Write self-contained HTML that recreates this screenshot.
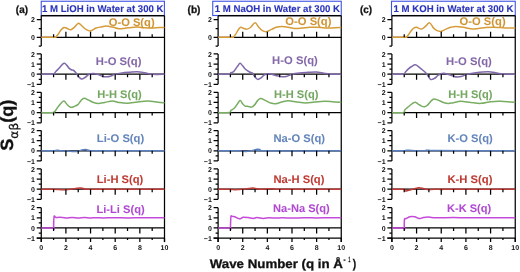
<!DOCTYPE html><html><head><meta charset="utf-8"><style>html,body{margin:0;padding:0;background:#fff;width:520px;height:272px;overflow:hidden}svg{display:block}</style></head><body><div id="w"><svg width="520" height="272" viewBox="0 0 520 272" text-rendering="geometricPrecision">
<rect width="520" height="272" fill="#fff"/>
<g fill="none" stroke="#000" stroke-width="1.25">
<path d="M164.5,15.5V242.1"/>
<path d="M41.25,15.5H164.5"/>
<path d="M36.75,238.1H164.5"/>
<path d="M41.25,238.1v4M53.58,238.1v2M65.9,238.1v4M78.22,238.1v2M90.55,238.1v4M102.88,238.1v2M115.2,238.1v4M127.52,238.1v2M139.85,238.1v4M152.18,238.1v2M164.5,238.1v4"/>
<path d="M41.25,15.5V46.1"/>
<path d="M36.75,19.7H41.25M38.75,28.5H41.25M36.75,37.3H41.25M38.75,46.1H41.25"/>
<path d="M41.25,37.3H164.5"/>
<path d="M41.25,53.9V84.35"/>
<path d="M36.75,53.9H41.25M38.75,58.98H41.25M36.75,64.05H41.25M38.75,69.12H41.25M36.75,74.2H41.25M38.75,79.28H41.25M36.75,84.35H41.25"/>
<path d="M41.25,74.2H164.5"/>
<path d="M41.25,92.3V122.75"/>
<path d="M36.75,92.3H41.25M38.75,97.38H41.25M36.75,102.45H41.25M38.75,107.52H41.25M36.75,112.6H41.25M38.75,117.67H41.25M36.75,122.75H41.25"/>
<path d="M41.25,112.6H164.5"/>
<path d="M41.25,130.5V160.95"/>
<path d="M36.75,130.5H41.25M38.75,135.58H41.25M36.75,140.65H41.25M38.75,145.73H41.25M36.75,150.8H41.25M38.75,155.88H41.25M36.75,160.95H41.25"/>
<path d="M41.25,150.8H164.5"/>
<path d="M41.25,168.9V199.35"/>
<path d="M36.75,168.9H41.25M38.75,173.97H41.25M36.75,179.05H41.25M38.75,184.12H41.25M36.75,189.2H41.25M38.75,194.27H41.25M36.75,199.35H41.25"/>
<path d="M41.25,189.2H164.5"/>
<path d="M41.25,207.65V242.1"/>
<path d="M36.75,207.65H41.25M38.75,212.72H41.25M36.75,217.8H41.25M38.75,222.88H41.25M36.75,227.95H41.25M38.75,233.02H41.25M36.75,238.1H41.25"/>
<path d="M41.25,227.95H164.5"/>
</g>
<path d="M41.25,37.3C43.47,37.3 52.1,37.37 54.56,37.3C57.03,37.23 55.38,37.45 56.04,36.86C56.7,36.27 57.68,34.92 58.5,33.78C59.33,32.64 60.05,31.04 60.97,30C61.89,28.95 63,27.78 64.05,27.53C65.1,27.28 66.11,28.13 67.26,28.5C68.41,28.87 69.7,30 70.95,29.73C72.21,29.47 73.52,28.02 74.77,26.92C76.03,25.82 77.22,23.25 78.47,23.13C79.72,23.01 81.04,25.17 82.29,26.21C83.55,27.25 84.63,28.59 85.99,29.38C87.35,30.17 88.76,31.18 90.43,30.96C92.09,30.74 94.21,28.73 95.97,28.06C97.74,27.39 99.32,27.24 101.03,26.92C102.73,26.59 104.29,26.09 106.2,26.12C108.11,26.15 110.39,26.67 112.49,27.09C114.58,27.52 116.68,28.49 118.77,28.68C120.87,28.87 122.99,28.44 125.06,28.24C127.13,28.03 129.15,27.63 131.22,27.44C133.3,27.25 135.41,27.05 137.51,27.09C139.6,27.14 141.72,27.55 143.79,27.71C145.87,27.87 147.88,28.06 149.96,28.06C152.03,28.06 153.82,27.81 156.24,27.71C158.67,27.61 163.12,27.49 164.5,27.44" fill="none" stroke="#d69c3a" stroke-width="1.5" stroke-linejoin="round"/>
<path d="M41.25,74.2C43.3,74.2 51.36,74.37 53.58,74.2C55.79,74.03 54.15,73.68 54.56,73.19C54.97,72.69 55.26,72.1 56.04,71.26C56.82,70.41 58.26,69.18 59.24,68.11C60.23,67.04 61.09,65.66 61.96,64.86C62.82,64.07 63.6,63.25 64.42,63.34C65.24,63.42 66.13,64.57 66.89,65.37C67.65,66.16 68.26,67.38 68.98,68.11C69.7,68.84 70.48,69.38 71.2,69.73C71.92,70.09 72.58,69.84 73.3,70.24C74.01,70.65 74.9,71.51 75.51,72.17C76.13,72.83 76.5,73.49 76.99,74.2C77.49,74.91 77.71,75.62 78.47,76.43C79.23,77.25 80.4,78.94 81.55,79.07C82.7,79.21 84.12,78.06 85.37,77.25C86.63,76.43 87.72,74.83 89.07,74.2C90.43,73.57 92.03,73.44 93.51,73.49C94.99,73.54 96.38,74.01 97.94,74.5C99.51,75 101.38,76.04 102.88,76.43C104.37,76.82 105.59,76.92 106.94,76.84C108.3,76.75 109.67,76.37 111.01,75.93C112.34,75.49 113.13,74.71 114.95,74.2C116.78,73.69 119.47,73.22 121.98,72.88C124.48,72.54 127.48,72.36 129.99,72.17C132.5,71.98 134.84,71.73 137.02,71.76C139.19,71.8 141.06,72.05 143.05,72.37C145.05,72.69 146.83,73.35 148.97,73.69C151.11,74.03 153.28,74.32 155.87,74.4C158.46,74.49 163.06,74.23 164.5,74.2" fill="none" stroke="#8068aa" stroke-width="1.5" stroke-linejoin="round"/>
<path d="M41.25,112.6C43.2,112.6 50.49,113.09 52.96,112.6C55.42,112.11 54.91,110.98 56.04,109.66C57.17,108.34 58.44,106.12 59.74,104.68C61.03,103.25 62.55,101.03 63.8,101.03C65.06,101.03 66.15,103.65 67.26,104.68C68.36,105.71 69.31,106.92 70.46,107.22C71.61,107.52 72.93,106.93 74.16,106.51C75.39,106.09 76.7,105.7 77.86,104.68C79.01,103.67 80.01,101.49 81.06,100.42C82.11,99.35 82.91,98.36 84.14,98.29C85.37,98.22 86.89,99.32 88.45,100.01C90.02,100.71 91.84,101.87 93.51,102.45C95.17,103.03 96.57,103.46 98.44,103.46C100.31,103.46 102.38,102.86 104.72,102.45C107.07,102.04 110.15,101.03 112.49,101.03C114.83,101.03 116.27,102.08 118.77,102.45C121.28,102.82 124.4,103.35 127.52,103.26C130.65,103.18 134.18,102.31 137.51,101.94C140.84,101.57 144.57,101.08 147.49,101.03C150.41,100.98 152.17,101.33 155.01,101.64C157.84,101.94 162.92,102.65 164.5,102.86" fill="none" stroke="#78ad62" stroke-width="1.5" stroke-linejoin="round"/>
<path d="M41.25,150.8C43.3,150.8 51.21,150.87 53.58,150.8C55.94,150.73 54.7,150.48 55.42,150.39C56.14,150.31 56.96,150.22 57.89,150.29C58.81,150.36 59.22,150.66 60.97,150.8C62.72,150.94 66.31,150.97 68.37,151.1C70.42,151.24 71.65,151.58 73.3,151.61C74.94,151.65 76.79,151.58 78.22,151.31C79.66,151.04 80.69,150.28 81.92,149.99C83.15,149.7 84.39,149.5 85.62,149.58C86.85,149.67 87.88,150.29 89.32,150.5C90.76,150.7 81.72,150.75 94.25,150.8C106.78,150.85 152.79,150.8 164.5,150.8" fill="none" stroke="#5a7fbf" stroke-width="1.5" stroke-linejoin="round"/>
<path d="M41.25,189.2C43.3,189.2 50.49,189.13 53.58,189.2C56.66,189.27 57.89,189.52 59.74,189.61C61.59,189.69 62.82,189.78 64.67,189.71C66.52,189.64 68.78,189.45 70.83,189.2C72.88,188.95 75.35,188.39 76.99,188.19C78.64,187.98 79.46,187.9 80.69,187.98C81.92,188.07 82.74,188.49 84.39,188.69C86.03,188.9 77.2,189.12 90.55,189.2C103.9,189.28 152.18,189.2 164.5,189.2" fill="none" stroke="#c03a36" stroke-width="1.5" stroke-linejoin="round"/>
<path d="M41.25,227.95C43.28,227.95 51.4,227.87 53.45,227.95C55.51,228.03 53.47,230.35 53.58,228.46C53.68,226.56 53.66,218.39 54.07,216.58C54.48,214.77 55.1,217.48 56.04,217.6C56.98,217.72 58.09,217.22 59.74,217.29C61.38,217.36 63.85,217.97 65.9,218C67.95,218.04 70.01,217.5 72.06,217.5C74.12,217.5 76.17,217.99 78.22,218C80.28,218.02 82.33,217.6 84.39,217.6C86.44,217.6 88.5,217.99 90.55,218C92.6,218.02 94.66,217.72 96.71,217.7C98.77,217.68 99.79,217.9 102.88,217.9C105.96,217.9 111.09,217.7 115.2,217.7C119.31,217.7 123.42,217.88 127.52,217.9C131.63,217.92 135.74,217.82 139.85,217.8C143.96,217.78 148.07,217.8 152.18,217.8C156.28,217.8 162.45,217.8 164.5,217.8" fill="none" stroke="#c64ada" stroke-width="1.5" stroke-linejoin="round"/>
<g fill="none" stroke="#000" stroke-width="1.25">
<path d="M53.58,37.3v-3M65.9,37.3v-5.5M78.22,37.3v-3M90.55,37.3v-5.5M102.88,37.3v-3M115.2,37.3v-5.5M127.52,37.3v-3M139.85,37.3v-5.5M152.18,37.3v-3"/>
<path d="M53.58,74.2v3M65.9,74.2v5.5M78.22,74.2v3M90.55,74.2v5.5M102.88,74.2v3M115.2,74.2v5.5M127.52,74.2v3M139.85,74.2v5.5M152.18,74.2v3"/>
<path d="M53.58,112.6v3M65.9,112.6v5.5M78.22,112.6v3M90.55,112.6v5.5M102.88,112.6v3M115.2,112.6v5.5M127.52,112.6v3M139.85,112.6v5.5M152.18,112.6v3"/>
<path d="M53.58,150.8v3M65.9,150.8v5.5M78.22,150.8v3M90.55,150.8v5.5M102.88,150.8v3M115.2,150.8v5.5M127.52,150.8v3M139.85,150.8v5.5M152.18,150.8v3"/>
<path d="M53.58,189.2v3M65.9,189.2v5.5M78.22,189.2v3M90.55,189.2v5.5M102.88,189.2v3M115.2,189.2v5.5M127.52,189.2v3M139.85,189.2v5.5M152.18,189.2v3"/>
<path d="M53.58,227.95v3M65.9,227.95v5.5M78.22,227.95v3M90.55,227.95v5.5M102.88,227.95v3M115.2,227.95v5.5M127.52,227.95v3M139.85,227.95v5.5M152.18,227.95v3"/>
</g>
<g font-family="Liberation Sans, Arial, sans-serif" font-size="7" font-weight="bold" text-anchor="end" fill="#111">
<text x="34.95" y="22.35">2</text>
<text x="34.95" y="39.95">0</text>
<text x="34.95" y="56.55">2</text>
<text x="34.95" y="66.7">1</text>
<text x="34.95" y="76.85">0</text>
<text x="34.95" y="87">−1</text>
<text x="34.95" y="94.95">2</text>
<text x="34.95" y="105.1">1</text>
<text x="34.95" y="115.25">0</text>
<text x="34.95" y="125.4">−1</text>
<text x="34.95" y="133.15">2</text>
<text x="34.95" y="143.3">1</text>
<text x="34.95" y="153.45">0</text>
<text x="34.95" y="163.6">−1</text>
<text x="34.95" y="171.55">2</text>
<text x="34.95" y="181.7">1</text>
<text x="34.95" y="191.85">0</text>
<text x="34.95" y="202">−1</text>
<text x="34.95" y="210.3">2</text>
<text x="34.95" y="220.45">1</text>
<text x="34.95" y="230.6">0</text>
<text x="34.95" y="240.75">−1</text>
</g>
<g font-family="Liberation Sans, Arial, sans-serif" font-size="7" font-weight="bold" text-anchor="middle" fill="#111">
<text x="41.25" y="250">0</text>
<text x="65.9" y="250">2</text>
<text x="90.55" y="250">4</text>
<text x="115.2" y="250">6</text>
<text x="139.85" y="250">8</text>
<text x="164.5" y="250">10</text>
</g>
<text x="108.78" y="25.5" font-family="Liberation Sans, Arial, sans-serif" font-size="11.1" font-weight="bold" fill="#d09535" stroke="#d09535" stroke-width="0.05" textLength="45.86" lengthAdjust="spacingAndGlyphs">O-O S(q)</text>
<text x="95.79" y="64.8" font-family="Liberation Sans, Arial, sans-serif" font-size="11.1" font-weight="bold" fill="#8468a8" stroke="#8468a8" stroke-width="0.05" textLength="45.64" lengthAdjust="spacingAndGlyphs">H-O S(q)</text>
<text x="97.3" y="97.75" font-family="Liberation Sans, Arial, sans-serif" font-size="11.1" font-weight="bold" fill="#75a862" stroke="#75a862" stroke-width="0.05" textLength="44.42" lengthAdjust="spacingAndGlyphs">H-H S(q)</text>
<text x="96.79" y="141.6" font-family="Liberation Sans, Arial, sans-serif" font-size="11.1" font-weight="bold" fill="#6586bb" stroke="#6586bb" stroke-width="0.05" textLength="47.46" lengthAdjust="spacingAndGlyphs">Li-O S(q)</text>
<text x="96.79" y="182.75" font-family="Liberation Sans, Arial, sans-serif" font-size="11.1" font-weight="bold" fill="#bf3c34" stroke="#bf3c34" stroke-width="0.05" textLength="46.49" lengthAdjust="spacingAndGlyphs">Li-H S(q)</text>
<text x="96.45" y="212.5" font-family="Liberation Sans, Arial, sans-serif" font-size="11.1" font-weight="bold" fill="#b04ad2" stroke="#b04ad2" stroke-width="0.05" textLength="48.21" lengthAdjust="spacingAndGlyphs">Li-Li S(q)</text>
<rect x="41.25" y="1.25" width="123.15" height="14.25" fill="none" stroke="#3f52e2" stroke-width="1.1"/>
<text x="42.02" y="12.3" font-family="Liberation Sans, Arial, sans-serif" font-size="9.8" font-weight="bold" fill="#2933bc" stroke="#2933bc" stroke-width="0.1" textLength="121.5" lengthAdjust="spacingAndGlyphs">1 M LiOH in Water at 300 K</text>
<path d="M41.25,15.5H164.5" stroke="#000" stroke-width="1.25"/>
<text x="15.85" y="13" font-family="Liberation Sans, Arial, sans-serif" font-size="10.4" font-weight="bold" fill="#111" stroke="#111" stroke-width="0.3" textLength="12.11" lengthAdjust="spacingAndGlyphs">(a)</text>
<g fill="none" stroke="#000" stroke-width="1.25">
<path d="M341.25,15.5V242.1"/>
<path d="M218.1,15.5H341.25"/>
<path d="M213.6,238.1H341.25"/>
<path d="M218.1,238.1v4M230.41,238.1v2M242.73,238.1v4M255.05,238.1v2M267.36,238.1v4M279.68,238.1v2M291.99,238.1v4M304.31,238.1v2M316.62,238.1v4M328.94,238.1v2M341.25,238.1v4"/>
<path d="M218.1,15.5V46.1"/>
<path d="M213.6,19.7H218.1M215.6,28.5H218.1M213.6,37.3H218.1M215.6,46.1H218.1"/>
<path d="M218.1,37.3H341.25"/>
<path d="M218.1,53.9V84.35"/>
<path d="M213.6,53.9H218.1M215.6,58.98H218.1M213.6,64.05H218.1M215.6,69.12H218.1M213.6,74.2H218.1M215.6,79.28H218.1M213.6,84.35H218.1"/>
<path d="M218.1,74.2H341.25"/>
<path d="M218.1,92.3V122.75"/>
<path d="M213.6,92.3H218.1M215.6,97.38H218.1M213.6,102.45H218.1M215.6,107.52H218.1M213.6,112.6H218.1M215.6,117.67H218.1M213.6,122.75H218.1"/>
<path d="M218.1,112.6H341.25"/>
<path d="M218.1,130.5V160.95"/>
<path d="M213.6,130.5H218.1M215.6,135.58H218.1M213.6,140.65H218.1M215.6,145.73H218.1M213.6,150.8H218.1M215.6,155.88H218.1M213.6,160.95H218.1"/>
<path d="M218.1,150.8H341.25"/>
<path d="M218.1,168.9V199.35"/>
<path d="M213.6,168.9H218.1M215.6,173.97H218.1M213.6,179.05H218.1M215.6,184.12H218.1M213.6,189.2H218.1M215.6,194.27H218.1M213.6,199.35H218.1"/>
<path d="M218.1,189.2H341.25"/>
<path d="M218.1,207.65V242.1"/>
<path d="M213.6,207.65H218.1M215.6,212.72H218.1M213.6,217.8H218.1M215.6,222.88H218.1M213.6,227.95H218.1M215.6,233.02H218.1M213.6,238.1H218.1"/>
<path d="M218.1,227.95H341.25"/>
</g>
<path d="M218.1,37.3C220.46,37.3 229.74,37.36 232.26,37.3C234.79,37.24 232.67,37.48 233.25,36.95C233.82,36.42 234.87,35.33 235.71,34.13C236.55,32.93 237.46,30.88 238.3,29.73C239.14,28.59 239.84,27.47 240.76,27.27C241.68,27.06 242.79,28.19 243.84,28.5C244.89,28.81 245.89,29.32 247.04,29.12C248.19,28.91 249.4,28.31 250.73,27.27C252.07,26.23 253.69,22.87 255.05,22.87C256.4,22.87 257.71,26.02 258.86,27.27C260.01,28.51 260.69,29.61 261.94,30.35C263.19,31.08 264.69,31.87 266.37,31.67C268.06,31.46 270.27,29.88 272.04,29.12C273.8,28.35 275.3,27.52 276.97,27.09C278.63,26.67 280.13,26.53 282.01,26.56C283.9,26.59 286.22,26.95 288.3,27.27C290.37,27.59 292.17,28.37 294.45,28.5C296.73,28.63 299.46,28.27 301.97,28.06C304.47,27.85 306.97,27.4 309.48,27.27C311.98,27.14 314.49,27.17 316.99,27.27C319.49,27.37 322,27.78 324.5,27.88C327.01,27.99 329.22,27.96 332.01,27.88C334.81,27.81 339.71,27.52 341.25,27.44" fill="none" stroke="#d69c3a" stroke-width="1.5" stroke-linejoin="round"/>
<path d="M218.1,74.2C220.01,74.2 227.44,74.47 229.55,74.2C231.67,73.93 230.17,72.95 230.78,72.58C231.4,72.2 232.43,72.59 233.25,71.97C234.07,71.34 234.87,69.95 235.71,68.82C236.55,67.69 237.56,66.08 238.3,65.17C239.04,64.25 239.43,63.24 240.14,63.34C240.86,63.44 241.66,64.74 242.61,65.78C243.55,66.81 244.66,68.5 245.81,69.53C246.96,70.56 248.37,71.36 249.5,71.97C250.63,72.58 251.74,72.46 252.58,73.19C253.42,73.91 253.71,75.3 254.55,76.33C255.39,77.36 256.48,79.17 257.63,79.38C258.78,79.58 260.3,78.33 261.45,77.55C262.6,76.77 263.19,75.33 264.53,74.71C265.86,74.08 267.59,73.68 269.45,73.79C271.32,73.91 273.62,74.93 275.73,75.42C277.85,75.91 280.25,76.6 282.14,76.74C284.03,76.87 285.42,76.65 287.06,76.23C288.71,75.81 289.94,74.74 291.99,74.2C294.04,73.66 296.71,73.29 299.38,72.98C302.05,72.68 305.19,72.54 308,72.37C310.81,72.2 313.58,71.83 316.25,71.97C318.92,72.1 321.48,72.81 324.01,73.19C326.53,73.56 328.52,74.03 331.4,74.2C334.27,74.37 339.61,74.2 341.25,74.2" fill="none" stroke="#8068aa" stroke-width="1.5" stroke-linejoin="round"/>
<path d="M218.1,112.6C220.01,112.6 227.44,112.94 229.55,112.6C231.67,112.26 229.96,111.33 230.78,110.57C231.61,109.81 233.35,109.18 234.48,108.03C235.61,106.88 236.61,104.9 237.56,103.67C238.5,102.43 239.3,100.62 240.14,100.62C240.99,100.62 241.79,102.75 242.61,103.67C243.43,104.58 244.13,105.65 245.07,106.1C246.01,106.56 247.22,106.24 248.27,106.41C249.32,106.58 250.3,107.37 251.35,107.12C252.4,106.87 253.51,105.97 254.55,104.89C255.6,103.8 256.6,101.69 257.63,100.62C258.66,99.56 259.36,98.49 260.71,98.49C262.06,98.49 264.08,99.86 265.76,100.62C267.44,101.38 269.15,102.55 270.81,103.06C272.47,103.57 273.87,103.85 275.73,103.67C277.6,103.48 279.92,102.42 282.01,101.94C284.11,101.47 285.81,100.81 288.3,100.83C290.78,100.84 294,101.69 296.92,102.04C299.83,102.4 302.85,102.96 305.78,102.96C308.72,102.96 311.41,102.31 314.53,102.04C317.65,101.77 321.59,101.4 324.5,101.33C327.42,101.27 329.22,101.45 332.01,101.64C334.81,101.82 339.71,102.31 341.25,102.45" fill="none" stroke="#78ad62" stroke-width="1.5" stroke-linejoin="round"/>
<path d="M218.1,150.8C221.38,150.8 233.8,150.73 237.8,150.8C241.81,150.87 240.78,151.1 242.11,151.21C243.45,151.31 244.58,151.43 245.81,151.41C247.04,151.39 248.17,151.29 249.5,151.1C250.84,150.92 252.58,150.6 253.81,150.29C255.05,149.99 255.87,149.4 256.89,149.28C257.92,149.16 258.84,149.33 259.97,149.58C261.1,149.84 250.12,150.6 263.67,150.8C277.21,151 328.32,150.8 341.25,150.8" fill="none" stroke="#5a7fbf" stroke-width="1.5" stroke-linejoin="round"/>
<path d="M218.1,189.2C219.95,189.2 226.72,189.13 229.18,189.2C231.65,189.27 231.44,189.54 232.88,189.61C234.31,189.67 236.16,189.67 237.8,189.61C239.45,189.54 240.88,189.37 242.73,189.2C244.58,189.03 247.25,188.79 248.89,188.59C250.53,188.39 251.45,187.98 252.58,187.98C253.71,187.98 254.43,188.39 255.66,188.59C256.89,188.79 258.02,189.13 259.97,189.2C261.92,189.27 265.1,189.08 267.36,189C269.62,188.91 271.46,188.66 273.52,188.69C275.57,188.73 268.39,189.12 279.68,189.2C290.96,189.28 330.99,189.2 341.25,189.2" fill="none" stroke="#c03a36" stroke-width="1.5" stroke-linejoin="round"/>
<path d="M218.1,227.95C220.13,227.95 228.24,227.87 230.29,227.95C232.34,228.03 230.31,230.32 230.41,228.46C230.52,226.6 230.66,218.81 230.91,216.78C231.15,214.75 231.26,216.28 231.89,216.28C232.53,216.28 233.45,216.36 234.73,216.78C236,217.21 238.11,218.75 239.53,218.81C240.94,218.88 241.77,217.39 243.22,217.19C244.68,216.99 246.61,217.39 248.27,217.6C249.93,217.8 251.74,218.41 253.2,218.41C254.66,218.41 255.33,217.6 257.02,217.6C258.7,217.6 261.22,218.38 263.3,218.41C265.37,218.44 267.34,217.85 269.45,217.8C271.57,217.75 273.87,218.1 275.98,218.1C278.09,218.1 279.47,217.82 282.14,217.8C284.81,217.78 288.3,218 291.99,218C295.68,218 300.2,217.82 304.31,217.8C308.41,217.78 312.51,217.9 316.62,217.9C320.73,217.9 324.83,217.82 328.94,217.8C333.04,217.78 339.2,217.8 341.25,217.8" fill="none" stroke="#c64ada" stroke-width="1.5" stroke-linejoin="round"/>
<g fill="none" stroke="#000" stroke-width="1.25">
<path d="M230.41,37.3v-3M242.73,37.3v-5.5M255.05,37.3v-3M267.36,37.3v-5.5M279.68,37.3v-3M291.99,37.3v-5.5M304.31,37.3v-3M316.62,37.3v-5.5M328.94,37.3v-3"/>
<path d="M230.41,74.2v3M242.73,74.2v5.5M255.05,74.2v3M267.36,74.2v5.5M279.68,74.2v3M291.99,74.2v5.5M304.31,74.2v3M316.62,74.2v5.5M328.94,74.2v3"/>
<path d="M230.41,112.6v3M242.73,112.6v5.5M255.05,112.6v3M267.36,112.6v5.5M279.68,112.6v3M291.99,112.6v5.5M304.31,112.6v3M316.62,112.6v5.5M328.94,112.6v3"/>
<path d="M230.41,150.8v3M242.73,150.8v5.5M255.05,150.8v3M267.36,150.8v5.5M279.68,150.8v3M291.99,150.8v5.5M304.31,150.8v3M316.62,150.8v5.5M328.94,150.8v3"/>
<path d="M230.41,189.2v3M242.73,189.2v5.5M255.05,189.2v3M267.36,189.2v5.5M279.68,189.2v3M291.99,189.2v5.5M304.31,189.2v3M316.62,189.2v5.5M328.94,189.2v3"/>
<path d="M230.41,227.95v3M242.73,227.95v5.5M255.05,227.95v3M267.36,227.95v5.5M279.68,227.95v3M291.99,227.95v5.5M304.31,227.95v3M316.62,227.95v5.5M328.94,227.95v3"/>
</g>
<g font-family="Liberation Sans, Arial, sans-serif" font-size="7" font-weight="bold" text-anchor="end" fill="#111">
<text x="211.8" y="22.35">2</text>
<text x="211.8" y="39.95">0</text>
<text x="211.8" y="56.55">2</text>
<text x="211.8" y="66.7">1</text>
<text x="211.8" y="76.85">0</text>
<text x="211.8" y="87">−1</text>
<text x="211.8" y="94.95">2</text>
<text x="211.8" y="105.1">1</text>
<text x="211.8" y="115.25">0</text>
<text x="211.8" y="125.4">−1</text>
<text x="211.8" y="133.15">2</text>
<text x="211.8" y="143.3">1</text>
<text x="211.8" y="153.45">0</text>
<text x="211.8" y="163.6">−1</text>
<text x="211.8" y="171.55">2</text>
<text x="211.8" y="181.7">1</text>
<text x="211.8" y="191.85">0</text>
<text x="211.8" y="202">−1</text>
<text x="211.8" y="210.3">2</text>
<text x="211.8" y="220.45">1</text>
<text x="211.8" y="230.6">0</text>
<text x="211.8" y="240.75">−1</text>
</g>
<g font-family="Liberation Sans, Arial, sans-serif" font-size="7" font-weight="bold" text-anchor="middle" fill="#111">
<text x="218.1" y="250">0</text>
<text x="242.73" y="250">2</text>
<text x="267.36" y="250">4</text>
<text x="291.99" y="250">6</text>
<text x="316.62" y="250">8</text>
<text x="341.25" y="250">10</text>
</g>
<text x="285.38" y="24.8" font-family="Liberation Sans, Arial, sans-serif" font-size="11.1" font-weight="bold" fill="#d09535" stroke="#d09535" stroke-width="0.05" textLength="46.06" lengthAdjust="spacingAndGlyphs">O-O S(q)</text>
<text x="272.14" y="64.4" font-family="Liberation Sans, Arial, sans-serif" font-size="11.1" font-weight="bold" fill="#8468a8" stroke="#8468a8" stroke-width="0.05" textLength="45.64" lengthAdjust="spacingAndGlyphs">H-O S(q)</text>
<text x="274.05" y="98.1" font-family="Liberation Sans, Arial, sans-serif" font-size="11.1" font-weight="bold" fill="#75a862" stroke="#75a862" stroke-width="0.05" textLength="44.42" lengthAdjust="spacingAndGlyphs">H-H S(q)</text>
<text x="273.44" y="141.9" font-family="Liberation Sans, Arial, sans-serif" font-size="11.1" font-weight="bold" fill="#6586bb" stroke="#6586bb" stroke-width="0.05" textLength="51.55" lengthAdjust="spacingAndGlyphs">Na-O S(q)</text>
<text x="273.44" y="182.5" font-family="Liberation Sans, Arial, sans-serif" font-size="11.1" font-weight="bold" fill="#bf3c34" stroke="#bf3c34" stroke-width="0.05" textLength="50.99" lengthAdjust="spacingAndGlyphs">Na-H S(q)</text>
<text x="273.05" y="212.1" font-family="Liberation Sans, Arial, sans-serif" font-size="11.1" font-weight="bold" fill="#b04ad2" stroke="#b04ad2" stroke-width="0.05" textLength="56.7" lengthAdjust="spacingAndGlyphs">Na-Na S(q)</text>
<rect x="212.75" y="1.25" width="128.5" height="14.25" fill="none" stroke="#3f52e2" stroke-width="1.1"/>
<text x="214.77" y="12.3" font-family="Liberation Sans, Arial, sans-serif" font-size="9.8" font-weight="bold" fill="#2933bc" stroke="#2933bc" stroke-width="0.1" textLength="125.24" lengthAdjust="spacingAndGlyphs">1 M NaOH in Water at 300 K</text>
<path d="M218.1,15.5H341.25" stroke="#000" stroke-width="1.25"/>
<text x="187.54" y="13" font-family="Liberation Sans, Arial, sans-serif" font-size="10.4" font-weight="bold" fill="#111" stroke="#111" stroke-width="0.3" textLength="12.99" lengthAdjust="spacingAndGlyphs">(b)</text>
<g fill="none" stroke="#000" stroke-width="1.25">
<path d="M515.25,15.5V242.1"/>
<path d="M391.9,15.5H515.25"/>
<path d="M387.4,238.1H515.25"/>
<path d="M391.9,238.1v4M404.23,238.1v2M416.57,238.1v4M428.9,238.1v2M441.24,238.1v4M453.57,238.1v2M465.91,238.1v4M478.25,238.1v2M490.58,238.1v4M502.92,238.1v2M515.25,238.1v4"/>
<path d="M391.9,15.5V46.1"/>
<path d="M387.4,19.7H391.9M389.4,28.5H391.9M387.4,37.3H391.9M389.4,46.1H391.9"/>
<path d="M391.9,37.3H515.25"/>
<path d="M391.9,53.9V84.35"/>
<path d="M387.4,53.9H391.9M389.4,58.98H391.9M387.4,64.05H391.9M389.4,69.12H391.9M387.4,74.2H391.9M389.4,79.28H391.9M387.4,84.35H391.9"/>
<path d="M391.9,74.2H515.25"/>
<path d="M391.9,92.3V122.75"/>
<path d="M387.4,92.3H391.9M389.4,97.38H391.9M387.4,102.45H391.9M389.4,107.52H391.9M387.4,112.6H391.9M389.4,117.67H391.9M387.4,122.75H391.9"/>
<path d="M391.9,112.6H515.25"/>
<path d="M391.9,130.5V160.95"/>
<path d="M387.4,130.5H391.9M389.4,135.58H391.9M387.4,140.65H391.9M389.4,145.73H391.9M387.4,150.8H391.9M389.4,155.88H391.9M387.4,160.95H391.9"/>
<path d="M391.9,150.8H515.25"/>
<path d="M391.9,168.9V199.35"/>
<path d="M387.4,168.9H391.9M389.4,173.97H391.9M387.4,179.05H391.9M389.4,184.12H391.9M387.4,189.2H391.9M389.4,194.27H391.9M387.4,199.35H391.9"/>
<path d="M391.9,189.2H515.25"/>
<path d="M391.9,207.65V242.1"/>
<path d="M387.4,207.65H391.9M389.4,212.72H391.9M387.4,217.8H391.9M389.4,222.88H391.9M387.4,227.95H391.9M389.4,233.02H391.9M387.4,238.1H391.9"/>
<path d="M391.9,227.95H515.25"/>
</g>
<path d="M391.9,37.3C394.16,37.3 403,37.37 405.47,37.3C407.94,37.23 406.21,37.29 406.7,36.86C407.2,36.43 407.61,35.83 408.43,34.75C409.25,33.66 410.69,31.49 411.64,30.35C412.58,29.2 413.28,28.4 414.1,27.88C414.93,27.37 415.34,27.06 416.57,27.27C417.8,27.47 420.04,29.26 421.5,29.12C422.96,28.97 423.97,27.43 425.33,26.39C426.68,25.35 428.29,22.62 429.65,22.87C431,23.12 432.32,26.64 433.47,27.88C434.62,29.13 435.32,29.76 436.55,30.35C437.79,30.93 439.31,31.61 440.87,31.4C442.43,31.2 444.26,29.81 445.93,29.12C447.59,28.43 449.2,27.72 450.86,27.27C452.53,26.81 453.84,26.39 455.92,26.39C458,26.39 460.83,26.86 463.32,27.27C465.81,27.68 468.36,28.65 470.84,28.85C473.33,29.06 475.78,28.71 478.25,28.5C480.71,28.29 483.18,27.83 485.65,27.62C488.11,27.41 490.52,27.27 493.05,27.27C495.58,27.27 498.29,27.52 500.82,27.62C503.35,27.72 505.81,27.84 508.22,27.88C510.62,27.93 514.08,27.88 515.25,27.88" fill="none" stroke="#d69c3a" stroke-width="1.5" stroke-linejoin="round"/>
<path d="M391.9,74.2C393.83,74.2 401.25,74.54 403.49,74.2C405.74,73.86 404.52,73.05 405.35,72.17C406.17,71.29 407.38,69.87 408.43,68.92C409.48,67.97 410.48,67.16 411.64,66.49C412.79,65.81 414.1,64.76 415.34,64.86C416.57,64.96 417.78,66.2 419.04,67.09C420.29,67.99 421.71,69.24 422.86,70.24C424.01,71.24 425.02,72.05 425.94,73.08C426.87,74.12 427.59,75.35 428.41,76.43C429.23,77.52 429.83,79.27 430.88,79.58C431.93,79.88 433.45,78.99 434.7,78.26C435.96,77.53 436.96,76.04 438.4,75.22C439.84,74.39 441.67,73.4 443.34,73.29C445,73.17 446.69,74.01 448.39,74.5C450.1,75 452.09,75.82 453.57,76.23C455.06,76.64 455.84,76.94 457.28,76.94C458.71,76.94 460.56,76.69 462.21,76.23C463.85,75.77 464.88,74.79 467.14,74.2C469.4,73.61 472.28,73.08 475.78,72.68C479.27,72.27 484.62,71.71 488.11,71.76C491.61,71.81 494.28,72.61 496.75,72.98C499.21,73.35 499.83,73.79 502.92,74C506,74.2 513.19,74.17 515.25,74.2" fill="none" stroke="#8068aa" stroke-width="1.5" stroke-linejoin="round"/>
<path d="M391.9,112.6C393.83,112.6 401.36,113.06 403.49,112.6C405.63,112.14 403.91,110.84 404.73,109.86C405.55,108.88 407.17,107.74 408.43,106.71C409.68,105.68 411.1,104.43 412.25,103.67C413.4,102.91 414.31,102.04 415.34,102.15C416.36,102.25 417.39,103.62 418.42,104.28C419.45,104.94 420.46,105.7 421.5,106.1C422.55,106.51 423.66,106.92 424.71,106.71C425.76,106.51 426.77,105.8 427.79,104.89C428.82,103.97 429.85,102.21 430.88,101.23C431.91,100.25 432.71,99.17 433.96,99C435.22,98.83 436.84,99.64 438.4,100.22C439.97,100.79 441.67,101.91 443.34,102.45C445,102.99 446.73,103.43 448.39,103.46C450.06,103.5 451.25,103.01 453.33,102.65C455.4,102.3 457.93,101.35 460.85,101.33C463.77,101.32 467.51,102.21 470.84,102.55C474.17,102.89 477.5,103.52 480.84,103.36C484.17,103.21 487.5,101.98 490.83,101.64C494.16,101.3 497.49,101.27 500.82,101.33C504.15,101.4 508.4,101.89 510.81,102.04C513.21,102.2 514.51,102.21 515.25,102.25" fill="none" stroke="#78ad62" stroke-width="1.5" stroke-linejoin="round"/>
<path d="M391.9,150.8C393.96,150.8 401.87,150.88 404.23,150.8C406.6,150.72 405.37,150.39 406.09,150.29C406.8,150.19 407.63,150.14 408.55,150.19C409.48,150.24 409.89,150.5 411.64,150.6C413.38,150.7 416.57,150.83 419.04,150.8C421.5,150.77 424.79,150.5 426.44,150.39C428.08,150.29 427.88,150.16 428.9,150.19C429.93,150.22 418.21,150.5 432.61,150.6C447,150.7 501.48,150.77 515.25,150.8" fill="none" stroke="#5a7fbf" stroke-width="1.5" stroke-linejoin="round"/>
<path d="M391.9,189.2C393.89,189.2 401.75,189.06 403.86,189.2C405.98,189.34 404.3,189.71 404.61,190.01C404.91,190.32 405.16,190.94 405.72,191.03C406.27,191.11 406.95,190.77 407.94,190.52C408.92,190.27 410.2,189.89 411.64,189.5C413.08,189.12 415.34,188.47 416.57,188.19C417.8,187.9 417.8,187.69 419.04,187.78C420.27,187.86 422.33,188.39 423.97,188.69C425.62,189 427.26,189.52 428.9,189.61C430.55,189.69 431.58,189.22 433.84,189.2C436.1,189.18 440.21,189.5 442.47,189.5C444.73,189.5 435.28,189.25 447.41,189.2C459.54,189.15 503.94,189.2 515.25,189.2" fill="none" stroke="#c03a36" stroke-width="1.5" stroke-linejoin="round"/>
<path d="M391.9,227.95C393.94,227.95 402.06,227.87 404.11,227.95C406.17,228.03 404.17,229.9 404.23,228.46C404.3,227.02 404.17,220.96 404.48,219.32C404.79,217.68 405.22,219.03 406.09,218.61C406.95,218.19 408.22,217.09 409.66,216.78C411.1,216.48 413.16,216.48 414.72,216.78C416.28,217.09 417.6,218.48 419.04,218.61C420.48,218.75 421.79,217.85 423.35,217.6C424.92,217.34 426.52,217.06 428.41,217.09C430.3,217.12 432.56,217.68 434.7,217.8C436.84,217.92 438.09,217.83 441.24,217.8C444.39,217.77 449.46,217.6 453.57,217.6C457.69,217.6 461.8,217.77 465.91,217.8C470.02,217.83 474.13,217.82 478.25,217.8C482.36,217.78 486.47,217.7 490.58,217.7C494.69,217.7 498.8,217.78 502.92,217.8C507.03,217.82 513.19,217.8 515.25,217.8" fill="none" stroke="#c64ada" stroke-width="1.5" stroke-linejoin="round"/>
<g fill="none" stroke="#000" stroke-width="1.25">
<path d="M404.23,37.3v-3M416.57,37.3v-5.5M428.9,37.3v-3M441.24,37.3v-5.5M453.57,37.3v-3M465.91,37.3v-5.5M478.25,37.3v-3M490.58,37.3v-5.5M502.92,37.3v-3"/>
<path d="M404.23,74.2v3M416.57,74.2v5.5M428.9,74.2v3M441.24,74.2v5.5M453.57,74.2v3M465.91,74.2v5.5M478.25,74.2v3M490.58,74.2v5.5M502.92,74.2v3"/>
<path d="M404.23,112.6v3M416.57,112.6v5.5M428.9,112.6v3M441.24,112.6v5.5M453.57,112.6v3M465.91,112.6v5.5M478.25,112.6v3M490.58,112.6v5.5M502.92,112.6v3"/>
<path d="M404.23,150.8v3M416.57,150.8v5.5M428.9,150.8v3M441.24,150.8v5.5M453.57,150.8v3M465.91,150.8v5.5M478.25,150.8v3M490.58,150.8v5.5M502.92,150.8v3"/>
<path d="M404.23,189.2v3M416.57,189.2v5.5M428.9,189.2v3M441.24,189.2v5.5M453.57,189.2v3M465.91,189.2v5.5M478.25,189.2v3M490.58,189.2v5.5M502.92,189.2v3"/>
<path d="M404.23,227.95v3M416.57,227.95v5.5M428.9,227.95v3M441.24,227.95v5.5M453.57,227.95v3M465.91,227.95v5.5M478.25,227.95v3M490.58,227.95v5.5M502.92,227.95v3"/>
</g>
<g font-family="Liberation Sans, Arial, sans-serif" font-size="7" font-weight="bold" text-anchor="end" fill="#111">
<text x="385.6" y="22.35">2</text>
<text x="385.6" y="39.95">0</text>
<text x="385.6" y="56.55">2</text>
<text x="385.6" y="66.7">1</text>
<text x="385.6" y="76.85">0</text>
<text x="385.6" y="87">−1</text>
<text x="385.6" y="94.95">2</text>
<text x="385.6" y="105.1">1</text>
<text x="385.6" y="115.25">0</text>
<text x="385.6" y="125.4">−1</text>
<text x="385.6" y="133.15">2</text>
<text x="385.6" y="143.3">1</text>
<text x="385.6" y="153.45">0</text>
<text x="385.6" y="163.6">−1</text>
<text x="385.6" y="171.55">2</text>
<text x="385.6" y="181.7">1</text>
<text x="385.6" y="191.85">0</text>
<text x="385.6" y="202">−1</text>
<text x="385.6" y="210.3">2</text>
<text x="385.6" y="220.45">1</text>
<text x="385.6" y="230.6">0</text>
<text x="385.6" y="240.75">−1</text>
</g>
<g font-family="Liberation Sans, Arial, sans-serif" font-size="7" font-weight="bold" text-anchor="middle" fill="#111">
<text x="391.9" y="250">0</text>
<text x="416.57" y="250">2</text>
<text x="441.24" y="250">4</text>
<text x="465.91" y="250">6</text>
<text x="490.58" y="250">8</text>
<text x="515.25" y="250">10</text>
</g>
<text x="459.63" y="25" font-family="Liberation Sans, Arial, sans-serif" font-size="11.1" font-weight="bold" fill="#d09535" stroke="#d09535" stroke-width="0.05" textLength="46.01" lengthAdjust="spacingAndGlyphs">O-O S(q)</text>
<text x="446.14" y="65.1" font-family="Liberation Sans, Arial, sans-serif" font-size="11.1" font-weight="bold" fill="#8468a8" stroke="#8468a8" stroke-width="0.05" textLength="45.64" lengthAdjust="spacingAndGlyphs">H-O S(q)</text>
<text x="448.3" y="97.9" font-family="Liberation Sans, Arial, sans-serif" font-size="11.1" font-weight="bold" fill="#75a862" stroke="#75a862" stroke-width="0.05" textLength="44.16" lengthAdjust="spacingAndGlyphs">H-H S(q)</text>
<text x="447.44" y="141.9" font-family="Liberation Sans, Arial, sans-serif" font-size="11.1" font-weight="bold" fill="#6586bb" stroke="#6586bb" stroke-width="0.05" textLength="45.23" lengthAdjust="spacingAndGlyphs">K-O S(q)</text>
<text x="447.44" y="182.75" font-family="Liberation Sans, Arial, sans-serif" font-size="11.1" font-weight="bold" fill="#bf3c34" stroke="#bf3c34" stroke-width="0.05" textLength="45.04" lengthAdjust="spacingAndGlyphs">K-H S(q)</text>
<text x="447.05" y="212.1" font-family="Liberation Sans, Arial, sans-serif" font-size="11.1" font-weight="bold" fill="#b04ad2" stroke="#b04ad2" stroke-width="0.05" textLength="44.16" lengthAdjust="spacingAndGlyphs">K-K S(q)</text>
<rect x="391.5" y="1.25" width="123.75" height="14.25" fill="none" stroke="#3f52e2" stroke-width="1.1"/>
<text x="393.57" y="12.3" font-family="Liberation Sans, Arial, sans-serif" font-size="9.8" font-weight="bold" fill="#2933bc" stroke="#2933bc" stroke-width="0.1" textLength="119.98" lengthAdjust="spacingAndGlyphs">1 M KOH in Water at 300 K</text>
<path d="M391.9,15.5H515.25" stroke="#000" stroke-width="1.25"/>
<text x="359.95" y="13" font-family="Liberation Sans, Arial, sans-serif" font-size="10.4" font-weight="bold" fill="#111" stroke="#111" stroke-width="0.3" textLength="12.11" lengthAdjust="spacingAndGlyphs">(c)</text>
<text transform="translate(13.1,150.8) rotate(-90) scale(1.02,1)" font-family="Liberation Sans, Arial, sans-serif" font-size="17.8" font-weight="bold" fill="#111" stroke="#111" stroke-width="0.3">S<tspan font-size="12" dy="4.7" font-family="DejaVu Sans, sans-serif" font-weight="normal" stroke-width="0.2">αβ</tspan><tspan dy="-4.7">(q)</tspan></text>
<text x="209.75" y="267.8" font-family="Liberation Sans, Arial, sans-serif" font-size="12.4" font-weight="bold" fill="#111" stroke="#111" stroke-width="0.3" textLength="133.19" lengthAdjust="spacingAndGlyphs">Wave Number (q in Å</text>
<text x="343.51" y="261.6" font-family="Liberation Sans, Arial, sans-serif" font-size="7.5" font-weight="bold" fill="#111" stroke="#111" stroke-width="0.3" textLength="2" lengthAdjust="spacingAndGlyphs">-</text>
<text x="348.56" y="261.6" font-family="Liberation Sans, Arial, sans-serif" font-size="7.5" font-weight="bold" fill="#111" stroke="#111" stroke-width="0.3" textLength="1.78" lengthAdjust="spacingAndGlyphs">1</text>
<text x="352.65" y="267.8" font-family="Liberation Sans, Arial, sans-serif" font-size="12.4" font-weight="bold" fill="#111" stroke="#111" stroke-width="0.3" textLength="3.45" lengthAdjust="spacingAndGlyphs">)</text>
</svg></div></body></html>
